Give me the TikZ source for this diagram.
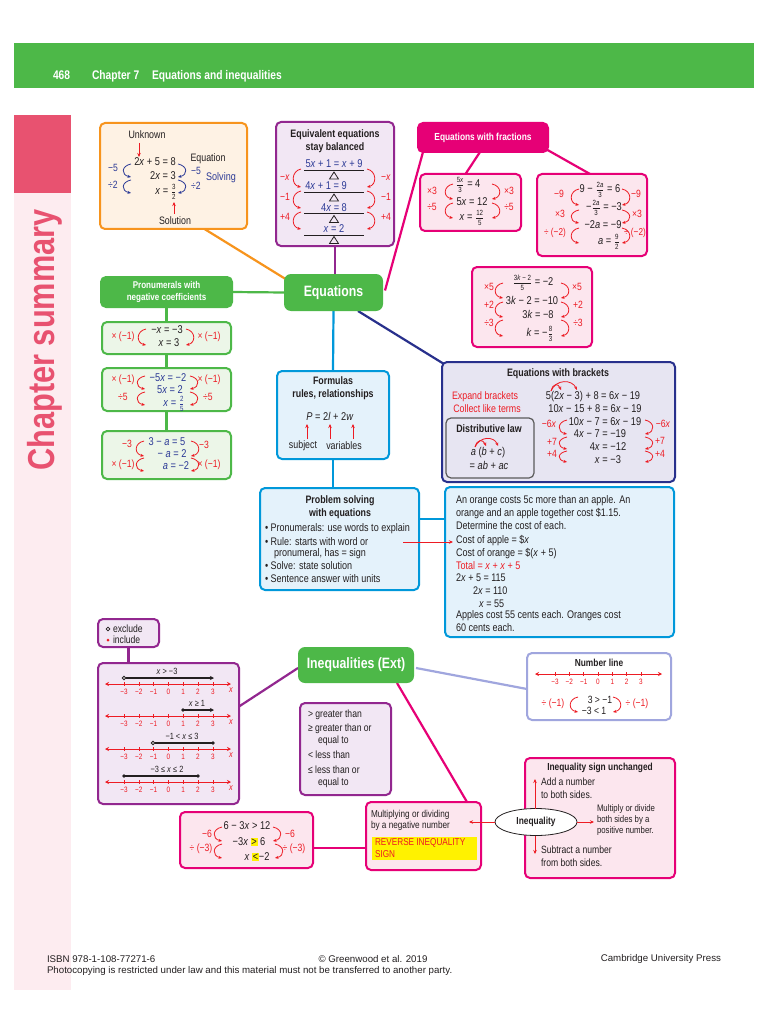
\documentclass[tikz,border=0pt]{standalone}
\usepackage{fontspec}
\setmainfont{Liberation Sans}[FakeStretch=0.82]
\newfontfamily\footfont{Liberation Sans}
\usetikzlibrary{arrows.meta,calc,shapes.geometric}
\definecolor{hdrgreen}{RGB}{77,184,72}
\definecolor{sidepink}{RGB}{232,82,112}
\definecolor{sidelight}{RGB}{253,236,240}
\definecolor{orangeB}{RGB}{247,148,29}
\definecolor{orangeF}{RGB}{254,242,228}
\definecolor{purpleB}{RGB}{146,39,143}
\definecolor{purpleF}{RGB}{242,231,244}
\definecolor{magB}{RGB}{230,0,118}
\definecolor{magF}{RGB}{252,230,238}
\definecolor{greenF}{RGB}{236,246,232}
\definecolor{ltblueB}{RGB}{0,152,218}
\definecolor{ltblueF}{RGB}{228,242,251}
\definecolor{navyB}{RGB}{40,48,140}
\definecolor{navyF}{RGB}{231,229,242}
\definecolor{lavB}{RGB}{160,166,222}
\definecolor{eqblue}{RGB}{44,58,150}
\definecolor{myred}{RGB}{237,28,36}
\definecolor{tgray}{RGB}{35,31,32}
\definecolor{hlyellow}{RGB}{255,242,0}
\definecolor{distB}{RGB}{90,90,90}
\pgfdeclarelayer{bg}
\pgfsetlayers{bg,main}
\newcommand\I[1]{\textit{#1}}
\newcommand\fr[2]{\ensuremath{\frac{\mbox{\raisebox{1pt}{\fontsize{7.5}{7.5}\selectfont #1}}}{\mbox{\raisebox{-1.2pt}{\fontsize{7.5}{7.5}\selectfont #2}}}}}
\newcommand\hly[1]{{\setlength{\fboxsep}{0.7pt}\colorbox{hlyellow}{#1}}}
\newcommand\la[4]{\draw[#1] (#2,#3) .. controls ({#2-10},{#3+2}) and ({#2-10},{#4-2}) .. (#2,#4);}
\newcommand\ra[4]{\draw[#1] (#2,#3) .. controls ({#2+10},{#3+2}) and ({#2+10},{#4-2}) .. (#2,#4);}
\newcommand\fulcrum[1]{\draw[line width=1pt,tgray] (304,#1) -- (364,#1);
  \draw[line width=0.8pt,tgray] (334,{#1+1.5}) -- (338.5,{#1+8.5}) -- (329.5,{#1+8.5}) -- cycle;}
\newcommand\numln[6]{%
  \draw[myred, line width=0.9pt, {Stealth[length=4pt,width=4pt]}-{Stealth[length=4pt,width=4pt]}] (#2,#6) -- (#3,#6);
  \foreach \k [count=\j from 0] in {−3,−2,−1,0,1,2,3}{%
    \draw[myred, line width=0.6pt] ({#4+\j*#5},{#6-2}) -- ({#4+\j*#5},{#6+2});
    \node[tick] (#1\j) at ({#4+\j*#5},{#6+8}) {\k};
  }}
\begin{document}
\begin{tikzpicture}[x=1pt,y=-1pt,
  every node/.style={inner sep=0pt, outer sep=0pt},
  bx/.style={draw=#1, line width=2pt, rounded corners=5pt},
  hdr/.style={text=white, font=\bfseries\fontsize{12.5}{14}\selectfont, anchor=base west},
  ttl/.style={text=tgray, font=\bfseries\fontsize{10.8}{13}\selectfont, align=center},
  wttl/.style={text=white, font=\bfseries\fontsize{10.2}{12.5}\selectfont, align=center},
  big/.style={text=white, font=\bfseries\fontsize{15}{17}\selectfont},
  eq/.style={text=tgray, font=\fontsize{11.3}{13}\selectfont},
  eqb/.style={text=eqblue, font=\fontsize{11.3}{13}\selectfont},
  lab/.style={text=tgray, font=\fontsize{10.8}{12}\selectfont},
  rl/.style={text=myred, font=\fontsize{10.5}{12}\selectfont},
  bl/.style={text=eqblue, font=\fontsize{10.5}{12}\selectfont},
  body/.style={text=tgray, font=\fontsize{11}{13}\selectfont, anchor=west},
  mid/.style={text=tgray, font=\fontsize{10.5}{12.5}\selectfont, anchor=west},
  small/.style={text=tgray, font=\fontsize{10}{11.5}\selectfont, anchor=west},
  tick/.style={text=myred, font=\fontsize{7.8}{8.5}\selectfont},
  ared/.style={myred, line width=0.8pt, -{Stealth[length=3.5pt,width=3pt]}},
  ablue/.style={eqblue, line width=0.8pt, -{Stealth[length=3.5pt,width=3pt]}},
  con/.style={line width=2.2pt},
  redarrow/.style={myred, line width=0.8pt, -{Stealth[length=4pt,width=3.5pt]}},
  seg/.style={tgray, line width=1.2pt},
  slab/.style={text=tgray, font=\fontsize{9}{10}\selectfont},
  foot/.style={text=tgray, font=\footfont\fontsize{9.7}{11}\selectfont}
]
\useasboundingbox (0,0) rectangle (768,1024);
\begin{pgfonlayer}{bg}
\fill[white] (0,0) rectangle (768,1024);
\fill[hdrgreen] (14,43) rectangle (754,88);
\fill[sidepink] (14,115) rectangle (71,193);
\fill[sidelight] (14,193) rectangle (71,990);
\end{pgfonlayer}

% header
\node[hdr] (h1) at (53,80) {468};
\node[hdr] (h2) at (92,80) {Chapter 7};
\node[hdr] (h3) at (152,80) {Equations and inequalities};
\node[rotate=90, text=sidepink, font=\bfseries\fontsize{37.5}{38}\selectfont] (cs) at (45,340) {Chapter summary};

% ---------- orange box
\node[bx=orangeB, fill=orangeF, minimum width=147pt, minimum height=106pt] (unk) at (173.5,176) {};
\node[lab] (unkl) at (147,135) {Unknown};
\coordinate (unkt) at (139,157);
\draw[redarrow] (139,143) -- (unkt);
\node[eq] (u1) at (155,162) {2\I{x} + 5 = 8};
\node[eq] (u2) at (163,175.5) {2\I{x} = 3};
\node[eq] (u3) at (166,192) {\I{x} = \fr{3}{2}};
\node[lab] (ueq) at (208,159) {Equation};
\node[bl, font=\fontsize{11}{12}\selectfont] (usol) at (221,178) {Solving};
\node[bl] (ul1) at (113,168) {−5};
\node[bl] (ul2) at (113,185) {÷2};
\node[bl] (ur1) at (196,171) {−5};
\node[bl] (ur2) at (196,186) {÷2};
\la{ablue}{131}{164}{177}
\la{ablue}{131}{180}{193}
\ra{ablue}{178}{164}{177}
\ra{ablue}{178}{180}{193}
\node[lab] (solu) at (175,221) {Solution};
\coordinate (solt) at (174,202);
\draw[redarrow] (174,214) -- (solt);

% ---------- equivalent equations
\node[bx=purpleB, fill=purpleF, minimum width=118pt, minimum height=124pt] (eqv) at (335,184) {};
\node[ttl] (eqvt) at (335,141) {Equivalent equations\\stay balanced};
\node[eqb] (e1) at (334,164) {5\I{x} + 1 = \I{x} + 9};
\node[eqb] (e2) at (326,186) {4\I{x} + 1 = 9};
\node[eqb] (e3) at (334,207.5) {4\I{x} = 8};
\node[eqb] (e4) at (334,228.5) {\I{x} = 2};
\fulcrum{170.5}\fulcrum{192.5}\fulcrum{214}\fulcrum{235}
\la{ared}{301}{169}{187}
\la{ared}{301}{191}{208}
\la{ared}{301}{212}{229}
\ra{ared}{367}{169}{187}
\ra{ared}{367}{191}{208}
\ra{ared}{367}{212}{229}
\node[rl] (el1) at (285,178) {−\I{x}};
\node[rl] (el2) at (285,197) {−1};
\node[rl] (el3) at (285,217) {+4};
\node[rl] (er1) at (386,178) {−\I{x}};
\node[rl] (er2) at (386,197) {−1};
\node[rl] (er3) at (386,217) {+4};

% ---------- fractions
\node[bx=magB, fill=magB, minimum width=130pt, minimum height=29pt] (frhdr) at (483,137.5) {};
\node[wttl] (frt) at (483,137.5) {Equations with fractions};
\node[bx=magB, fill=magF, minimum width=101pt, minimum height=57pt] (fr1) at (470.5,202.5) {};
\node[eq] (f11) at (468,185) {\fr{5\I{x}}{3} = 4};
\node[eq] (f12) at (472,202) {5\I{x} = 12};
\node[eq] (f13) at (472,218) {\I{x} = \fr{12}{5}};
\node[rl] (f1l1) at (432,191) {×3};
\node[rl] (f1l2) at (432,207) {÷5};
\node[rl] (f1r1) at (509,191) {×3};
\node[rl] (f1r2) at (509,207) {÷5};
\la{ared}{453}{184}{199}
\la{ared}{453}{203}{218}
\ra{ared}{492}{184}{199}
\ra{ared}{492}{203}{218}

\node[bx=magB, fill=magF, minimum width=110pt, minimum height=82pt] (fr2) at (592,215) {};
\node[eq] (f21) at (600,190) {9 − \fr{2\I{a}}{3} = 6};
\node[eq] (f22) at (604,208) {−\fr{2\I{a}}{3} = −3};
\node[eq] (f23) at (603,225) {−2\I{a} = −9};
\node[eq] (f24) at (609,242) {\I{a} = \fr{9}{2}};
\node[rl] (f2l1) at (559,194) {−9};
\node[rl] (f2l2) at (560,214) {×3};
\node[rl, font=\fontsize{10}{12}\selectfont] (f2l3) at (555,233) {÷ (−2)};
\node[rl] (f2r1) at (636,194) {−9};
\node[rl] (f2r2) at (637,214) {×3};
\node[rl, font=\fontsize{10}{12}\selectfont] (f2r3) at (635,233) {÷ (−2)};
\la{ared}{579}{189}{205}
\la{ared}{579}{210}{223}
\la{ared}{579}{228}{243}
\ra{ared}{622}{189}{205}
\ra{ared}{622}{210}{223}
\ra{ared}{622}{228}{243}

\node[bx=magB, fill=magF, minimum width=120pt, minimum height=80pt] (fr3) at (532,307) {};
\node[eq] (f31) at (533,283) {\fr{3\I{k} − 2}{5} = −2};
\node[eq] (f32) at (532,300.5) {3\I{k} − 2 = −10};
\node[eq] (f33) at (538,314) {3\I{k} = −8};
\node[eq] (f34) at (540,334) {\I{k} = −\fr{8}{3}};
\node[rl] (f3l1) at (489,287) {×5};
\node[rl] (f3l2) at (489,305) {+2};
\node[rl] (f3l3) at (489,323) {÷3};
\node[rl] (f3r1) at (577,287) {×5};
\node[rl] (f3r2) at (578,305) {+2};
\node[rl] (f3r3) at (578,323) {÷3};
\la{ared}{503}{283}{298}
\la{ared}{503}{302}{317}
\la{ared}{503}{320}{336}
\ra{ared}{561}{283}{298}
\ra{ared}{561}{302}{317}
\ra{ared}{561}{320}{336}

% ---------- Equations node
\node[fill=hdrgreen, rounded corners=7pt, minimum width=99pt, minimum height=37pt] (eqn) at (333.5,292.5) {};
\node[big] (eqnt) at (333.5,292.5) {Equations};

% ---------- pronumerals
\node[bx=hdrgreen, fill=hdrgreen, minimum width=131pt, minimum height=30pt] (pron) at (166.5,292) {};
\node[wttl, font=\bfseries\fontsize{9.8}{12.5}\selectfont] (pront) at (166.5,292) {Pronumerals with\\negative coefficients};
\node[bx=hdrgreen, fill=greenF, minimum width=129pt, minimum height=32pt] (p1) at (166.5,338) {};
\node[rl] (p1l) at (123,337) {× (−1)};
\node[eq] (p11) at (167,330) {−\I{x} = −3};
\node[eq] (p12) at (169,343) {\I{x} = 3};
\node[rl] (p1r) at (209,337) {× (−1)};
\la{ared}{146}{329}{345}
\ra{ared}{186}{329}{345}

\node[bx=hdrgreen, fill=greenF, minimum width=129pt, minimum height=43pt] (p2) at (166.5,389.5) {};
\node[rl] (p2l1) at (123,380) {× (−1)};
\node[rl] (p2l2) at (123,397) {÷5};
\node[eqb] (p21) at (168,377.5) {−5\I{x} = −2};
\node[eqb] (p22) at (170,389.5) {5\I{x} = 2};
\node[eqb] (p23) at (174,404) {\I{x} = \fr{2}{5}};
\node[rl] (p2r1) at (209,380) {× (−1)};
\node[rl] (p2r2) at (208,397) {÷5};
\la{ared}{145}{376}{389}
\la{ared}{145}{392}{405}
\ra{ared}{190}{376}{389}
\ra{ared}{190}{392}{405}

\node[bx=hdrgreen, fill=greenF, minimum width=129pt, minimum height=48pt] (p3) at (166.5,455) {};
\node[rl] (p3l1) at (127,444) {−3};
\node[rl] (p3l2) at (123,465) {× (−1)};
\node[eqb] (p31) at (167,442) {3 − \I{a} = 5};
\node[eqb] (p32) at (172,454) {− \I{a} = 2};
\node[eqb] (p33) at (176,466) {\I{a} = −2};
\node[rl] (p3r1) at (204,445) {−3};
\node[rl] (p3r2) at (209,465) {× (−1)};
\la{ared}{144}{441}{456}
\la{ared}{144}{458}{471}
\ra{ared}{191}{441}{456}
\ra{ared}{191}{458}{471}

% ---------- formulas
\node[bx=ltblueB, fill=ltblueF, minimum width=112pt, minimum height=88pt] (form) at (333,415) {};
\node[ttl] (formt) at (333,388.5) {Formulas\\rules, relationships};
\node[eq] (forme) at (330,416) {\I{P} = 2\I{l} + 2\I{w}};
\coordinate (fa1) at (307,424);
\coordinate (fa2) at (330,424);
\coordinate (fa3) at (353,424);
\draw[redarrow] (307,439) -- (fa1);
\draw[redarrow] (330,439) -- (fa2);
\draw[redarrow] (353,439) -- (fa3);
\node[lab] (fsub) at (303,446) {subject};
\node[lab] (fvar) at (344,446) {variables};

% ---------- brackets
\node[bx=navyB, fill=navyF, minimum width=233pt, minimum height=120pt] (brk) at (558.5,422) {};
\node[ttl] (brkt) at (558,374) {Equations with brackets};
\node[rl, font=\fontsize{10.8}{12}\selectfont] (bx1) at (485,397) {Expand brackets};
\node[rl, font=\fontsize{10.8}{12}\selectfont] (bx2) at (487,409) {Collect like terms};
\node[eq] (b1) at (593,397) {5(2\I{x} − 3) + 8 = 6\I{x} − 19};
\node[eq] (b2) at (595,409) {10\I{x} − 15 + 8 = 6\I{x} − 19};
\node[eq] (b3) at (605,422) {10\I{x} − 7 = 6\I{x} − 19};
\node[eq] (b4) at (600,434) {4\I{x} − 7 = −19};
\node[eq] (b5) at (608,447) {4\I{x} = −12};
\node[eq] (b6) at (608,460) {\I{x} = −3};
\draw[ared] (551,391) .. controls (553,383) and (558,383) .. (561,390);
\draw[ared] (551,391) .. controls (556,379) and (572,379) .. (577,390);
\node[rl] (bl1) at (549,424) {−6\I{x}};
\node[rl] (bl2) at (552,442) {+7};
\node[rl] (bl3) at (552,454) {+4};
\node[rl] (br1) at (663,424) {−6\I{x}};
\node[rl] (br2) at (660,441) {+7};
\node[rl] (br3) at (660,454) {+4};
\la{ared}{567}{420}{434}
\la{ared}{567}{437}{449}
\la{ared}{567}{451}{462}
\ra{ared}{645}{420}{434}
\ra{ared}{645}{437}{449}
\ra{ared}{645}{451}{462}
\node[draw=distB, line width=1.2pt, rounded corners=5pt, fill=navyF, minimum width=88pt, minimum height=60pt] (dist) at (490,448) {};
\node[ttl] (distt) at (489,429) {Distributive law};
\node[eq] (d1) at (488,453) {\I{a} (\I{b} + \I{c})};
\node[eq] (d2) at (489,465) {= \I{ab} + \I{ac}};
\draw[ared] (475,447) .. controls (477,439) and (483,439) .. (486,446);
\draw[ared] (475,447) .. controls (480,436) and (494,436) .. (498,446);

% ---------- problem solving
\node[bx=ltblueB, fill=ltblueF, minimum width=159pt, minimum height=102pt] (ps) at (339.5,539) {};
\node[ttl] (pst) at (340,507.5) {Problem solving\\with equations};
\node[body] (ps1) at (265,529) {• Pronumerals: use words to explain};
\node[body] (ps2) at (265,542) {• Rule: starts with word or};
\node[body] (ps3) at (274,554) {pronumeral, has = sign};
\node[body] (ps4) at (265,566) {• Solve: state solution};
\node[body] (ps5) at (265,579) {• Sentence answer with units};

\node[bx=ltblueB, fill=ltblueF, minimum width=229pt, minimum height=150pt] (ex) at (559.5,562) {};
\node[body] (x1) at (456,501) {An orange costs 5c more than an apple. An};
\node[body] (x2) at (456,514) {orange and an apple together cost \$1.15.};
\node[body] (x3) at (456,526) {Determine the cost of each.};
\node[body] (x4) at (456,541) {Cost of apple = \$\I{x}};
\node[body] (x5) at (456,554) {Cost of orange = \$(\I{x} + 5)};
\node[body, text=myred] (x6) at (456,566) {Total = \I{x} + \I{x} + 5};
\node[body] (x7) at (456,578) {2\I{x} + 5 = 115};
\node[body] (x8) at (473,591) {2\I{x} = 110};
\node[body] (x9) at (479,604) {\I{x} = 55};
\node[body] (x10) at (456,616) {Apples cost 55 cents each. Oranges cost};
\node[body] (x11) at (456,628) {60 cents each.};

% ---------- exclude/include
\node[bx=purpleB, fill=purpleF, minimum width=61pt, minimum height=28pt] (excl) at (128.5,633) {};
\draw[tgray, line width=0.7pt] (108,629) circle (1.8pt);
\fill[myred] (108,640) circle (1.5pt);
\node[mid] (exc1) at (113,629) {exclude};
\node[mid] (exc2) at (113,640) {include};

\node[bx=purpleB, fill=purpleF, minimum width=141pt, minimum height=141pt] (nl) at (168.5,733.5) {};
\numln{na}{105}{231}{124}{14.8}{684}
\numln{nb}{105}{231}{124}{14.8}{716}
\numln{nc}{105}{231}{124}{14.8}{749}
\numln{nd}{105}{231}{124}{14.8}{782}
\node[tick, font=\itshape\fontsize{9}{9}\selectfont] (xa) at (231,690) {x};
\node[tick, font=\itshape\fontsize{9}{9}\selectfont] (xb) at (231,722) {x};
\node[tick, font=\itshape\fontsize{9}{9}\selectfont] (xc) at (231,755) {x};
\node[tick, font=\itshape\fontsize{9}{9}\selectfont] (xd) at (231,788) {x};
\draw[seg, -{Stealth[length=4pt,width=4pt]}] (126,678) -- (214,678);
\draw[tgray, line width=0.8pt, fill=white] (124,678) circle (1.8pt);
\node[slab] (sa) at (167,671) {\I{x} > −3};
\draw[seg, -{Stealth[length=4pt,width=4pt]}] (183,710) -- (214,710);
\fill[tgray] (183,710) circle (1.8pt);
\node[slab] (sb) at (197,703) {\I{x} ≥ 1};
\draw[seg] (155,743) -- (213,743);
\draw[tgray, line width=0.8pt, fill=white] (153,743) circle (1.8pt);
\fill[tgray] (213,743) circle (1.8pt);
\node[slab] (sc) at (182,736) {−1 < \I{x} ≤ 3};
\draw[seg] (124,776) -- (198,776);
\fill[tgray] (124,776) circle (1.8pt);
\fill[tgray] (198,776) circle (1.8pt);
\node[slab] (sd) at (167,769) {−3 ≤ \I{x} ≤ 2};

% ---------- inequalities
\node[fill=hdrgreen, rounded corners=7pt, minimum width=116pt, minimum height=36pt] (ineq) at (356,665) {};
\node[big] (ineqt) at (356,665) {Inequalities (Ext)};

\node[bx=purpleB, fill=purpleF, minimum width=91pt, minimum height=92pt] (sym) at (345.5,749) {};
\node[mid] (sy1) at (308,715) {> greater than};
\node[mid] (sy2) at (308,729) {≥ greater than or};
\node[mid] (sy3) at (318,741) {equal to};
\node[mid] (sy4) at (308,755) {< less than};
\node[mid] (sy5) at (308,770) {≤ less than or};
\node[mid] (sy6) at (318,783) {equal to};

\node[bx=lavB, fill=white, minimum width=144pt, minimum height=67pt] (numbox) at (599,686.5) {};
\node[ttl, font=\bfseries\fontsize{10.2}{12}\selectfont] (numt) at (599,663) {Number line};
\numln{ne}{535}{662}{555}{14.33}{674}
\node[rl] (nl1) at (553,704) {÷ (−1)};
\node[eq, font=\fontsize{10.5}{11}\selectfont] (nn1) at (600,700) {3 > −1};
\node[eq, font=\fontsize{10.5}{11}\selectfont] (nn2) at (594,711) {−3 < 1};
\node[rl] (nr1) at (637,704) {÷ (−1)};
\la{ared}{578}{697}{712}
\ra{ared}{613}{697}{712}

% ---------- inequality sign
\node[bx=magB, fill=magF, minimum width=150pt, minimum height=120pt] (unch) at (600,818) {};
\node[ttl, font=\bfseries\fontsize{10.2}{12}\selectfont] (uncht) at (600,768) {Inequality sign unchanged};
\node[mid] (un1) at (541,782) {Add a number};
\node[mid] (un2) at (541,795) {to both sides.};
\node[mid] (un3) at (541,850) {Subtract a number};
\node[mid] (un4) at (541,863) {from both sides.};
\node[small, font=\fontsize{9.5}{11}\selectfont] (un5) at (597,809) {Multiply or divide};
\node[small, font=\fontsize{9.5}{11}\selectfont] (un6) at (597,820) {both sides by a};
\node[small, font=\fontsize{9.5}{11}\selectfont] (un7) at (597,831) {positive number.};

\node[bx=magB, fill=magF, minimum width=115pt, minimum height=68pt] (mult) at (423.5,836) {};
\node[small] (mu1) at (371,815) {Multiplying or dividing};
\node[small] (mu2) at (371,826) {by a negative number};
\node[fill=hlyellow, minimum width=105pt, minimum height=23pt] (rev) at (424.5,848.5) {};
\node[small, text=myred] (rv1) at (375,843) {REVERSE INEQUALITY};
\node[small, text=myred] (rv2) at (375,854) {SIGN};

\node[ellipse, draw=tgray, line width=0.8pt, fill=white, minimum width=82pt, minimum height=27pt] (ineqel) at (536,822) {};
\node[ttl, font=\bfseries\fontsize{10.2}{12}\selectfont] (ineqelt) at (536,822) {Inequality};
\coordinate (mtip) at (469,822);
\coordinate (ptip) at (594,822);
\coordinate (uptip) at (535,779);
\coordinate (dntip) at (535,854);
\draw[redarrow] (ineqel.west) -- (mtip);
\draw[redarrow] (ineqel.east) -- (ptip);
\draw[redarrow] (ineqel.north -| uptip) -- (uptip);
\draw[redarrow] (ineqel.south -| dntip) -- (dntip);

\node[bx=magB, fill=magF, minimum width=133pt, minimum height=56pt] (negx) at (246.5,840) {};
\node[eq] (n1) at (247,826) {6 − 3\I{x} > 12};
\node[eq] (n2) at (249,842) {−3\I{x} \hly{>} 6};
\node[eq] (n3) at (257,857) {\I{x} \hly{<}−2};
\node[rl] (nxl1) at (207,834) {−6};
\node[rl] (nxl2) at (201,849) {÷ (−3)};
\node[rl] (nxr1) at (290,834) {−6};
\node[rl] (nxr2) at (294,849) {÷ (−3)};
\la{ared}{222}{827}{841}
\la{ared}{222}{844}{858}
\ra{ared}{273}{827}{841}
\ra{ared}{275}{844}{858}

% ---------- footer
\node[foot, anchor=west] (ft1) at (47,959) {ISBN 978-1-108-77271-6};
\node[foot] (ft2) at (373,959) {© Greenwood et al. 2019};
\node[foot, anchor=east] (ft3) at (721,959) {Cambridge University Press};
\node[foot, anchor=west] (ft4) at (47,971) {Photocopying is restricted under law and this material must not be transferred to another party.};

% ---------- connectors (behind)
\begin{pgfonlayer}{bg}
\draw[con, orangeB] ($(unk.south)+(31,0)$) -- ($(eqn.west)+(4,-12)$);
\draw[con, purpleB] (eqv.south) -- (eqv.south |- eqn.north);
\draw[con, magB] ($(frhdr.south west)+(5,0)$) -- ($(eqn.east)+(2,-2)$);
\draw[con, magB] ($(frhdr.south)+(-3,0)$) -- ($(fr1.north)+(-5,0)$);
\draw[con, magB] ($(frhdr.south)+(46,0)$) -- ($(frhdr.south)+(46,0)$ |- fr3.north);
\draw[con, magB] ($(frhdr.south east)+(-4,-4)$) -- ($(fr2.north)+(-2,0)$);
\draw[con, hdrgreen] (pron.east) -- (eqn.west);
\draw[con, hdrgreen] (pron.south) -- (p1.north);
\draw[con, hdrgreen] (p1.south) -- (p2.north);
\draw[con, hdrgreen] (p2.south) -- (p3.north);
\draw[con, ltblueB] (eqn.south) -- (form.north);
\draw[con, ltblueB] (form.south) -- (form.south |- ps.north);
\draw[con, navyB] ($(eqn.south east)+(-25,0)$) -- ($(brk.north west)+(2,2)$);
\draw[con, ltblueB] ($(ps.east)+(0,-20)$) -- ($(ex.west)+(0,-43)$);
\draw[con, purpleB] (excl.south) -- (excl.south |- nl.north);
\draw[con, purpleB] ($(nl.east)+(0,-27)$) -- ($(ineq.west)+(0,3)$);
\draw[con, purpleB] ($(ineq.south)+(-4,0)$) -- ($(ineq.south)+(-4,0)$ |- sym.north);
\draw[con, lavB] ($(ineq.east)+(2,3)$) -- ($(numbox.west)+(0,2.5)$);
\draw[con, magB] ($(ineq.south east)+(-17,0)$) -- ($(mult.north)+(43.5,0)$);
\draw[con, magB] ($(negx.east)+(0,8)$) -- ($(mult.west)+(0,12)$);
\end{pgfonlayer}
\draw[redarrow] ($(ps.east)+(-16,3)$) -- ($(ex.west)+(8,-20)$);
\end{tikzpicture}
\end{document}
